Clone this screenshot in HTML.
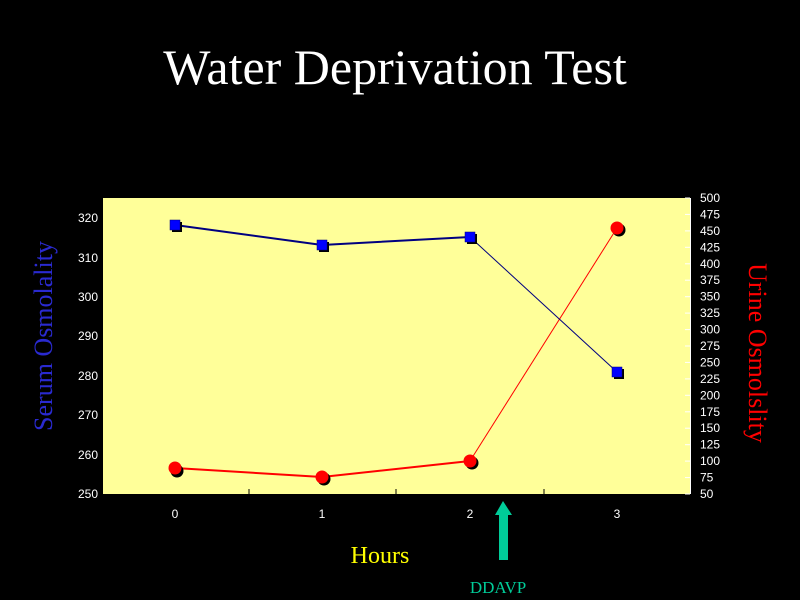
<!DOCTYPE html>
<html><head><style>body{margin:0;background:#000;}</style></head><body>
<svg width="800" height="600" xmlns="http://www.w3.org/2000/svg" style="display:block">
<rect width="800" height="600" fill="#000"/>
<text x="395" y="84" font-family="Liberation Serif, serif" font-size="50" fill="#fff" text-anchor="middle">Water Deprivation Test</text>
<rect x="103" y="198" width="587" height="296" fill="#ffff99"/>
<g stroke="#000" stroke-width="1">
<line x1="249" y1="494" x2="249" y2="489"/><line x1="396" y1="494" x2="396" y2="489"/><line x1="544" y1="494" x2="544" y2="489"/>
</g>
<g font-family="Liberation Sans, sans-serif" font-size="12" fill="#fff" text-anchor="end">
<text x="98" y="222">320</text><text x="98" y="262">310</text><text x="98" y="301">300</text><text x="98" y="340">290</text><text x="98" y="380">280</text><text x="98" y="419">270</text><text x="98" y="459">260</text><text x="98" y="498">250</text>
</g>
<g font-family="Liberation Sans, sans-serif" font-size="12" fill="#fff" text-anchor="middle">
<text x="175" y="518">0</text><text x="322" y="518">1</text><text x="470" y="518">2</text><text x="617" y="518">3</text>
</g>
<g stroke="#fff" stroke-width="1">
<line x1="690.5" y1="198" x2="690.5" y2="494"/>
<line x1="685" y1="198.0" x2="690" y2="198.0"/><line x1="685" y1="214.4" x2="690" y2="214.4"/><line x1="685" y1="230.9" x2="690" y2="230.9"/><line x1="685" y1="247.3" x2="690" y2="247.3"/><line x1="685" y1="263.8" x2="690" y2="263.8"/><line x1="685" y1="280.2" x2="690" y2="280.2"/><line x1="685" y1="296.7" x2="690" y2="296.7"/><line x1="685" y1="313.1" x2="690" y2="313.1"/><line x1="685" y1="329.6" x2="690" y2="329.6"/><line x1="685" y1="346.0" x2="690" y2="346.0"/><line x1="685" y1="362.4" x2="690" y2="362.4"/><line x1="685" y1="378.9" x2="690" y2="378.9"/><line x1="685" y1="395.3" x2="690" y2="395.3"/><line x1="685" y1="411.8" x2="690" y2="411.8"/><line x1="685" y1="428.2" x2="690" y2="428.2"/><line x1="685" y1="444.7" x2="690" y2="444.7"/><line x1="685" y1="461.1" x2="690" y2="461.1"/><line x1="685" y1="477.6" x2="690" y2="477.6"/><line x1="685" y1="494.0" x2="690" y2="494.0"/>
</g>
<g font-family="Liberation Sans, sans-serif" font-size="12" fill="#fff">
<text x="700" y="202">500</text><text x="700" y="218.4">475</text><text x="700" y="234.9">450</text><text x="700" y="251.3">425</text><text x="700" y="267.8">400</text><text x="700" y="284.2">375</text><text x="700" y="300.7">350</text><text x="700" y="317.1">325</text><text x="700" y="333.6">300</text><text x="700" y="350">275</text><text x="700" y="366.4">250</text><text x="700" y="382.9">225</text><text x="700" y="399.3">200</text><text x="700" y="415.8">175</text><text x="700" y="432.2">150</text><text x="700" y="448.7">125</text><text x="700" y="465.1">100</text><text x="700" y="481.6">75</text><text x="700" y="498">50</text>
</g>
<polyline points="175,468 322,477 470,461" fill="none" stroke="#ff0000" stroke-width="2"/>
<line x1="470" y1="461" x2="617" y2="228" stroke="#ff0000" stroke-width="1"/>
<polyline points="175,225 322,245 470,237" fill="none" stroke="#000080" stroke-width="2"/>
<line x1="470" y1="237" x2="617" y2="372" stroke="#000080" stroke-width="1"/>
<g fill="#000">
<circle cx="177" cy="471" r="6.5"/><circle cx="324" cy="479" r="6.5"/><circle cx="472" cy="463" r="6.5"/><circle cx="619" cy="230" r="6.5"/>
<rect x="172" y="222" width="10" height="10"/><rect x="319" y="242" width="10" height="10"/><rect x="467" y="234" width="10" height="10"/><rect x="614" y="369" width="10" height="10"/>
</g>
<g fill="#ff0000">
<circle cx="175" cy="468" r="6.5"/><circle cx="322" cy="477" r="6.5"/><circle cx="470" cy="461" r="6.5"/><circle cx="617" cy="228" r="6.5"/>
</g>
<g fill="#0000ff" stroke="#000080" stroke-width="0.5">
<rect x="170" y="220" width="10" height="10"/><rect x="317" y="240" width="10" height="10"/><rect x="465" y="232" width="10" height="10"/><rect x="612" y="367" width="10" height="10"/>
</g>
<text x="380" y="563" font-family="Liberation Serif, serif" font-size="24" fill="#ffff00" text-anchor="middle">Hours</text>
<polygon points="503,501 512,515 508,515 508,560 499,560 499,515 495,515" fill="#00cc99"/>
<text x="498" y="593" font-family="Liberation Serif, serif" font-size="17" fill="#00cc99" text-anchor="middle">DDAVP</text>
<text transform="translate(52,336) rotate(-90)" font-family="Liberation Serif, serif" font-size="26" fill="#2a2ad0" text-anchor="middle">Serum Osmolality</text>
<text transform="translate(749,353) rotate(90)" font-family="Liberation Serif, serif" font-size="26" fill="#ff0000" text-anchor="middle">Urine Osmolslity</text>
</svg>
</body></html>
